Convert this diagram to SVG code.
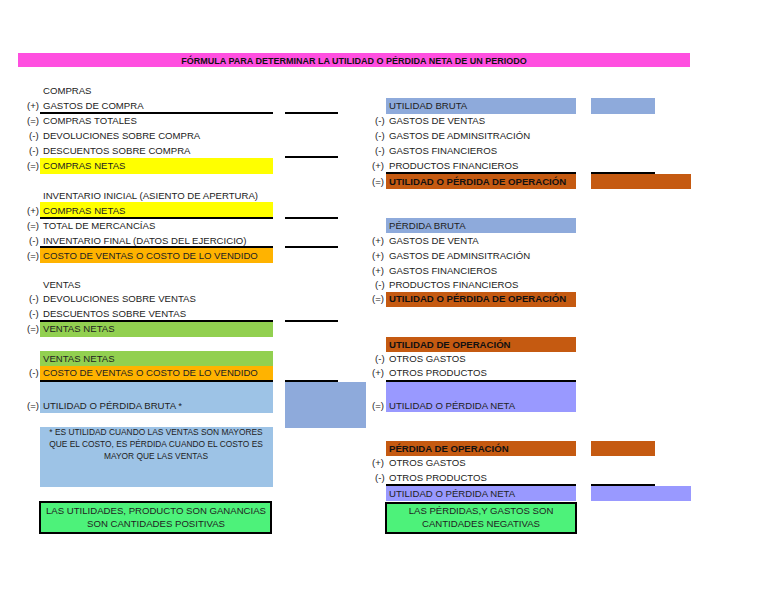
<svg xmlns="http://www.w3.org/2000/svg" width="768" height="594" viewBox="0 0 768 594">
<style>
text{font-family:"Liberation Sans",Arial,sans-serif;font-size:9.6px;fill:#222}
.b{font-weight:bold;fill:#111}
.c{text-anchor:middle}
.s{font-size:8.4px}
.ln{stroke:#000;stroke-width:2}
.y{fill:#FFFF00}.o{fill:#FFB300}.g{fill:#92D050}.lb{fill:#9DC3E6}.mb{fill:#8EAADB}.br{fill:#C55A11}.p{fill:#9999FF}
.gb{fill:#4DF27A;stroke:#000;stroke-width:2}
</style>
<rect width="768" height="594" fill="#fff"/>
<g id="title"><rect x="18" y="53" width="672" height="14" fill="#FF4FE0"/><text class="b c" x="354" y="64" style="font-size:9px">FÓRMULA PARA DETERMINAR LA UTILIDAD O PÉRDIDA NETA DE UN PERIODO</text></g>
<g id="fills">
<rect class="y" x="40" y="158" width="233" height="16"/>
<rect class="y" x="40" y="202" width="233" height="16"/>
<rect class="o" x="40" y="248" width="233" height="15"/>
<rect class="g" x="40" y="322" width="233" height="15"/>
<rect class="g" x="40" y="351" width="233" height="15"/>
<rect class="o" x="40" y="366" width="233" height="15"/>
<rect class="lb" x="40" y="382" width="233" height="31"/>
<rect class="mb" x="285" y="382" width="81" height="46"/>
<rect class="lb" x="40" y="427" width="233" height="60"/>
<rect class="mb" x="386" y="98" width="190" height="16"/>
<rect class="mb" x="591" y="98" width="64" height="16"/>
<rect class="br" x="386" y="174" width="190" height="15"/>
<rect class="br" x="591" y="174" width="100" height="15"/>
<rect class="mb" x="386" y="218" width="190" height="15"/>
<rect class="br" x="386" y="292" width="190" height="15"/>
<rect class="br" x="386" y="337" width="190" height="15"/>
<rect class="p" x="386" y="382" width="190" height="30"/>
<rect class="br" x="386" y="441" width="190" height="15"/>
<rect class="br" x="591" y="441" width="64" height="15"/>
<rect class="p" x="386" y="486" width="190" height="15"/>
<rect class="p" x="591" y="486" width="100" height="15"/>
</g>
<g id="connectors">
<line class="ln" x1="40" y1="113" x2="273" y2="113"/><line class="ln" x1="285" y1="113" x2="338" y2="113"/>
<line class="ln" x1="285" y1="157" x2="338" y2="157"/>
<line class="ln" x1="40" y1="218" x2="273" y2="218"/><line class="ln" x1="285" y1="218" x2="338" y2="218"/>
<line class="ln" x1="40" y1="247" x2="273" y2="247"/><line class="ln" x1="285" y1="247" x2="338" y2="247"/>
<line class="ln" x1="40" y1="321" x2="273" y2="321"/><line class="ln" x1="285" y1="321" x2="338" y2="321"/>
<line class="ln" x1="40" y1="381" x2="273" y2="381"/><line class="ln" x1="285" y1="381" x2="338" y2="381"/>
<line class="ln" x1="386" y1="173" x2="576" y2="173"/><line class="ln" x1="591" y1="173" x2="655" y2="173"/>
<line class="ln" x1="386" y1="381" x2="576" y2="381"/>
<line class="ln" x1="386" y1="485" x2="576" y2="485"/><line class="ln" x1="591" y1="485" x2="655" y2="485"/>
</g>
<g id="left">
<text x="43" y="94">COMPRAS</text>
<text x="27" y="109">(+)</text><text x="43" y="109">GASTOS DE COMPRA</text>
<text x="27" y="124">(=)</text><text x="43" y="124">COMPRAS TOTALES</text>
<text x="29" y="139">(-)</text><text x="43" y="139">DEVOLUCIONES SOBRE COMPRA</text>
<text x="29" y="154">(-)</text><text x="43" y="154">DESCUENTOS SOBRE COMPRA</text>
<text x="27" y="169">(=)</text><text x="43" y="169">COMPRAS NETAS</text>
<text x="43" y="199">INVENTARIO INICIAL (ASIENTO DE APERTURA)</text>
<text x="27" y="214">(+)</text><text x="43" y="214">COMPRAS NETAS</text>
<text x="27" y="229">(=)</text><text x="43" y="229">TOTAL DE MERCANCÍAS</text>
<text x="29" y="244">(-)</text><text x="43" y="244">INVENTARIO FINAL (DATOS DEL EJERCICIO)</text>
<text x="27" y="259">(=)</text><text x="43" y="259">COSTO DE VENTAS O COSTO DE LO VENDIDO</text>
<text x="43" y="288">VENTAS</text>
<text x="29" y="302">(-)</text><text x="43" y="302">DEVOLUCIONES SOBRE VENTAS</text>
<text x="29" y="317">(-)</text><text x="43" y="317">DESCUENTOS SOBRE VENTAS</text>
<text x="27" y="332">(=)</text><text x="43" y="332">VENTAS NETAS</text>
<text x="43" y="362">VENTAS NETAS</text>
<text x="29" y="376">(-)</text><text x="43" y="376">COSTO DE VENTAS O COSTO DE LO VENDIDO</text>
<text x="27" y="409">(=)</text><text x="43" y="409">UTILIDAD O PÉRDIDA BRUTA *</text>
<text class="c s" x="156" y="435">* ES UTILIDAD CUANDO LAS VENTAS SON MAYORES</text>
<text class="c s" x="156" y="447">QUE EL COSTO, ES PÉRDIDA CUANDO EL COSTO ES</text>
<text class="c s" x="156" y="459">MAYOR QUE LAS VENTAS</text>
</g>
<g id="note-left"><rect class="gb" x="40" y="502" width="231" height="31"/><text class="c" x="156" y="514">LAS UTILIDADES, PRODUCTO SON GANANCIAS</text><text class="c" x="156" y="527">SON CANTIDADES POSITIVAS</text></g>
<g id="right">
<text x="389" y="109">UTILIDAD BRUTA</text>
<text x="375" y="124">(-)</text><text x="389" y="124">GASTOS DE VENTAS</text>
<text x="375" y="139">(-)</text><text x="389" y="139">GASTOS DE ADMINSITRACIÓN</text>
<text x="375" y="154">(-)</text><text x="389" y="154">GASTOS FINANCIEROS</text>
<text x="372" y="169">(+)</text><text x="389" y="169">PRODUCTOS FINANCIEROS</text>
<text x="372" y="185">(=)</text><text class="b" x="389" y="185">UTILIDAD O PÉRDIDA DE OPERACIÓN</text>
<text x="389" y="229">PÉRDIDA BRUTA</text>
<text x="372" y="244">(+)</text><text x="389" y="244">GASTOS DE VENTA</text>
<text x="372" y="259">(+)</text><text x="389" y="259">GASTOS DE ADMINSITRACIÓN</text>
<text x="372" y="274">(+)</text><text x="389" y="274">GASTOS FINANCIEROS</text>
<text x="375" y="288">(-)</text><text x="389" y="288">PRODUCTOS FINANCIEROS</text>
<text x="372" y="302">(=)</text><text class="b" x="389" y="302">UTILIDAD O PÉRDIDA DE OPERACIÓN</text>
<text class="b" x="389" y="348">UTILIDAD DE OPERACIÓN</text>
<text x="375" y="362">(-)</text><text x="389" y="362">OTROS GASTOS</text>
<text x="372" y="376">(+)</text><text x="389" y="376">OTROS PRODUCTOS</text>
<text x="372" y="409">(=)</text><text x="389" y="409">UTILIDAD O PÉRDIDA NETA</text>
<text class="b" x="389" y="452">PÉRDIDA DE OPERACIÓN</text>
<text x="372" y="466">(+)</text><text x="389" y="466">OTROS GASTOS</text>
<text x="375" y="481">(-)</text><text x="389" y="481">OTROS PRODUCTOS</text>
<text x="389" y="497">UTILIDAD O PÉRDIDA NETA</text>
</g>
<g id="note-right"><rect class="gb" x="386" y="503" width="190" height="30"/><text class="c" x="481" y="514">LAS PÉRDIDAS,Y GASTOS SON</text><text class="c" x="481" y="527">CANTIDADES NEGATIVAS</text></g>
</svg>
